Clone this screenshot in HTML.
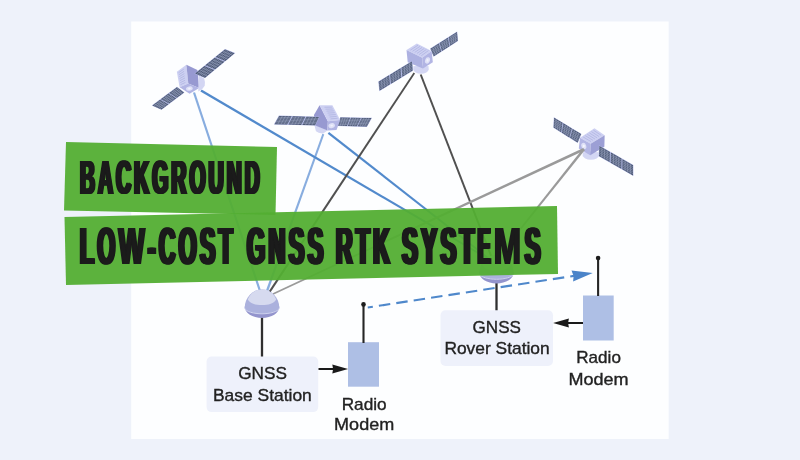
<!DOCTYPE html>
<html lang="en">
<head>
<meta charset="utf-8">
<title>Background: Low-Cost GNSS RTK Systems</title>
<style>
html,body{margin:0;padding:0;background:#eef2fa;}
body{width:800px;height:460px;overflow:hidden;background:#eef2fa;position:relative;font-family:"Liberation Sans",sans-serif;}
svg.dg{position:absolute;left:0;top:0;width:800px;height:460px;will-change:transform;filter:blur(0.45px);}
svg.bn{position:absolute;left:0;top:0;width:800px;height:460px;}
.t{position:absolute;white-space:nowrap;font-weight:bold;color:#1b1b1b;transform-origin:0 0;line-height:1;margin:0;}
.t span{position:absolute;top:0;display:block;transform-origin:0 0;}
.t i{display:inline-block;font-style:normal;transform-origin:0 0;}
#t1{left:0;top:154.3px;font-size:47.2px;letter-spacing:7.0px;text-shadow:2px 0 0 #1b1b1b,-2px 0 0 #1b1b1b,3.5px 0 0 #1b1b1b,-3.5px 0 0 #1b1b1b;}
#t2{left:0;top:221.4px;font-size:51.6px;letter-spacing:7.6px;text-shadow:2px 0 0 #1b1b1b,-2px 0 0 #1b1b1b,3.8px 0 0 #1b1b1b,-3.8px 0 0 #1b1b1b;}
#w0{left:79.99px;transform:scaleX(0.4393);}
#w1{left:80.45px;transform:scaleX(0.4441);}
#w2{left:246.59px;transform:scaleX(0.4514);}
#w3{left:336.2px;transform:scaleX(0.4432);}
#w4{left:402.34px;transform:scaleX(0.4591);}
</style>
</head>
<body>
<svg class="dg" viewBox="0 0 800 460">
<rect x="131.2" y="21.5" width="537.5" height="417.5" fill="#fdfeff"/>
<polygon points="192.96,92.85 258.96,291.35 261.04,290.65 195.04,92.15" fill="#88addf"/>
<polygon points="322.36,133.86 266.12,290.11 268.28,290.89 324.24,134.54" fill="#88addf"/>
<polygon points="200.37,91.58 491.55,261.78 492.45,260.22 201.63,89.42" fill="#528acc"/>
<polygon points="327.69,133.71 493.44,263.31 494.56,261.89 329.11,131.89" fill="#528acc"/>
<polygon points="413.55,72.4 268.58,291.39 270.42,292.61 415.05,73.4" fill="#505050"/>
<polygon points="419.77,74.86 492.57,262.36 494.43,261.64 421.63,74.14" fill="#505050"/>
<polygon points="151.8,105.5 177,86.8 184.5,92.5 161.5,109.8" fill="#b4bbe6"/>
<polygon points="152.44,105.43 160.11,99.73 168.48,104.14 161.44,109.44" fill="#4c5875"/>
<path d="M153.94 106.1L161.51 100.47M155.44 106.76L162.9 101.2M156.94 107.43L164.3 101.94M158.44 108.1L165.69 102.67M159.94 108.77L167.09 103.41M154.36 104L163.2 108.12M156.28 102.58L164.96 106.79M158.19 101.16L166.72 105.47" stroke="#a3acc9" stroke-width="0.5" fill="none"/>
<polygon points="160.87,99.17 168.54,93.48 176.22,98.33 169.18,103.62" fill="#4c5875"/>
<path d="M162.25 99.91L169.82 94.29M163.64 100.66L171.1 95.09M165.02 101.4L172.38 95.9M166.41 102.14L173.66 96.71M167.79 102.88L174.94 97.52M162.78 97.75L170.94 102.3M164.7 96.33L172.7 100.98M166.62 94.9L174.46 99.65" stroke="#a3acc9" stroke-width="0.5" fill="none"/>
<polygon points="169.29,92.92 176.96,87.22 183.96,92.51 176.91,97.81" fill="#4c5875"/>
<path d="M170.56 93.73L178.13 88.1M171.83 94.55L179.29 88.99M173.1 95.36L180.46 89.87M174.37 96.18L181.63 90.75M175.64 96.99L182.79 91.63M171.21 91.49L178.68 96.48M173.13 90.07L180.44 95.16M175.04 88.65L182.2 93.83" stroke="#a3acc9" stroke-width="0.5" fill="none"/>
<polygon points="176.85,71.7 186.4,64.85 188.3,83.6 179.6,87.2" fill="#cdd0f2"/>
<path d="M178.61 72.67L183.8 69.13M178.94 74.67L184.07 71.35M179.27 76.67L184.34 73.57M179.59 78.67L184.61 75.79M179.92 80.66L184.88 78.01M180.25 82.66L185.15 80.24M180.58 84.66L185.42 82.46" stroke="#9fa4d6" stroke-width="0.5" fill="none"/>
<polygon points="186.4,64.85 197.4,69.9 199.2,88.1 188.3,83.6" fill="#9799d1"/>
<polygon points="179.6,87.2 188.3,83.6 199.2,88.1 189.6,93.8" fill="#b2b5e4"/>
<ellipse cx="189.4" cy="88.6" rx="3.4" ry="2.1" fill="#dfe1f7" transform="rotate(-12 189.4 88.6)"/>
<ellipse cx="189.4" cy="88.6" rx="1.4" ry="0.9" fill="#f1f2fc" transform="rotate(-12 189.4 88.6)"/>
<path d="M198.6 75 L204.2 78.6 Q205.4 82 204.7 85.8 Q202.5 90 198.3 91.6 Z" fill="#d3d6f3"/>
<polygon points="194.4,73.75 225,49 235.25,53.1 205,78.1" fill="#b4bbe6"/>
<polygon points="195.14,73.61 204.48,66.05 214.23,70.02 204.99,77.65" fill="#4c5875"/>
<path d="M196.78 74.28L206.1 66.71M198.42 74.95L207.73 67.37M200.07 75.63L209.35 68.03M201.71 76.3L210.98 68.69M203.35 76.97L212.61 69.36M197.47 71.72L207.3 75.74M199.81 69.83L209.61 73.83M202.14 67.94L211.92 71.92" stroke="#a3acc9" stroke-width="0.5" fill="none"/>
<polygon points="205.4,65.3 214.73,57.74 224.38,61.64 215.14,69.27" fill="#4c5875"/>
<path d="M207.02 65.96L216.34 58.39M208.64 66.62L217.95 59.04M210.27 67.29L219.56 59.69M211.89 67.95L221.16 60.34M213.52 68.61L222.77 60.99M207.73 63.41L217.45 67.36M210.06 61.52L219.76 65.45M212.4 59.63L222.07 63.54" stroke="#a3acc9" stroke-width="0.5" fill="none"/>
<polygon points="215.65,57 224.99,49.44 234.53,53.26 225.29,60.89" fill="#4c5875"/>
<path d="M217.26 57.65L226.58 50.08M218.86 58.3L228.17 50.71M220.47 58.94L229.76 51.35M222.08 59.59L231.35 51.98M223.68 60.24L232.94 52.62M217.99 55.11L227.6 58.98M220.32 53.22L229.91 57.07M222.66 51.33L232.22 55.16" stroke="#a3acc9" stroke-width="0.5" fill="none"/>
<polygon points="340.1,117.3 372,117.7 366.9,126.9 337.4,125.9" fill="#b4bbe6"/>
<polygon points="340.39,117.61 350.1,117.73 346.88,125.91 337.85,125.61" fill="#4c5875"/>
<path d="M339.96 118.94L349.57 119.1M339.54 120.27L349.03 120.46M339.12 121.61L348.49 121.82M338.7 122.94L347.96 123.18M338.27 124.28L347.42 124.55M342.82 117.64L340.11 125.69M345.24 117.67L342.37 125.76M347.67 117.7L344.62 125.83" stroke="#a3acc9" stroke-width="0.5" fill="none"/>
<polygon points="351.06,117.75 360.77,117.88 356.8,126.24 347.77,125.94" fill="#4c5875"/>
<path d="M350.51 119.11L360.11 119.27M349.96 120.48L359.45 120.66M349.41 121.84L358.79 122.06M348.87 123.21L358.13 123.45M348.32 124.57L357.46 124.84M353.48 117.78L350.03 126.01M355.91 117.81L352.29 126.09M358.34 117.84L354.54 126.16" stroke="#a3acc9" stroke-width="0.5" fill="none"/>
<polygon points="361.73,117.89 371.44,118.02 366.72,126.57 357.69,126.27" fill="#4c5875"/>
<path d="M361.05 119.28L370.65 119.44M360.38 120.68L369.87 120.87M359.71 122.08L369.08 122.29M359.04 123.47L368.3 123.72M358.36 124.87L367.51 125.14M364.15 117.92L359.95 126.34M366.58 117.95L362.21 126.42M369.01 117.98L364.47 126.49" stroke="#a3acc9" stroke-width="0.5" fill="none"/>
<path d="M313.95 123.57 L315.96 131.33 Q318.7 133.8 323.26 133.43 L327.47 130.51 L315.5 125.03 Z" fill="#d3d6f3"/>
<polygon points="319.61,105.31 313.95,114.89 315.41,125.4 327.37,130.6 327.83,121.29" fill="#9799d1"/>
<polygon points="319.61,105.31 332.4,105.31 340.16,119.92 327.83,121.29" fill="#cdd0f2"/>
<path d="M324.46 107.25L331.84 107.15M325.47 109.2L332.82 109M326.48 111.14L333.79 110.85M327.49 113.09L334.77 112.69M328.5 115.04L335.75 114.54M329.51 116.98L336.73 116.39M330.52 118.93L337.7 118.24" stroke="#9fa4d6" stroke-width="0.5" fill="none"/>
<polygon points="327.83,121.29 340.16,119.92 336.51,129.96 327.37,130.6" fill="#b2b5e4"/>
<ellipse cx="331.67" cy="125.58" rx="3.3" ry="2.4" fill="#dfe1f7" transform="rotate(-15 331.67 125.58)"/>
<ellipse cx="331.67" cy="125.58" rx="1.3" ry="0.9" fill="#f1f2fc"/>
<polygon points="278.9,115.6 319.5,116.7 315.4,125.5 273.85,124.6" fill="#b4bbe6"/>
<polygon points="279.21,115.93 291.62,116.26 287.2,124.57 274.52,124.3" fill="#4c5875"/>
<path d="M278.43 117.32L290.88 117.65M277.65 118.72L290.15 119.03M276.87 120.11L289.41 120.42M276.09 121.51L288.67 121.8M275.31 122.9L287.94 123.19M282.31 116.01L277.69 124.37M285.41 116.09L280.86 124.43M288.52 116.18L284.03 124.5" stroke="#a3acc9" stroke-width="0.5" fill="none"/>
<polygon points="292.84,116.29 305.24,116.63 301.12,124.88 288.45,124.6" fill="#4c5875"/>
<path d="M292.1 117.68L304.56 118M291.37 119.06L303.87 119.38M290.64 120.45L303.18 120.75M289.91 121.83L302.5 122.13M289.18 123.22L301.81 123.5M295.94 116.38L291.62 124.67M299.04 116.46L294.79 124.74M302.14 116.54L297.95 124.81" stroke="#a3acc9" stroke-width="0.5" fill="none"/>
<polygon points="306.46,116.66 318.87,116.99 315.05,125.18 302.37,124.9" fill="#4c5875"/>
<path d="M305.78 118.03L318.23 118.36M305.1 119.41L317.59 119.72M304.42 120.78L316.96 121.09M303.73 122.16L316.32 122.45M303.05 123.53L315.68 123.82M309.56 116.74L305.54 124.97M312.67 116.83L308.71 125.04M315.77 116.91L311.88 125.11" stroke="#a3acc9" stroke-width="0.5" fill="none"/>
<polygon points="430.1,48.6 457.2,31.4 458,41 433.6,56.7" fill="#b4bbe6"/>
<polygon points="430.55,48.68 438.79,43.44 441.25,51.42 433.77,56.23" fill="#4c5875"/>
<path d="M431.08 49.94L439.2 44.77M431.62 51.19L439.61 46.1M432.16 52.45L440.02 47.43M432.7 53.71L440.43 48.76M433.23 54.97L440.84 50.09M432.61 47.37L435.64 55.03M434.67 46.06L437.51 53.82M436.73 44.75L439.38 52.62" stroke="#a3acc9" stroke-width="0.5" fill="none"/>
<polygon points="439.6,42.93 447.85,37.69 449.46,46.14 441.99,50.95" fill="#4c5875"/>
<path d="M440 44.26L448.12 39.1M440.4 45.6L448.39 40.51M440.79 46.94L448.66 41.91M441.19 48.27L448.93 43.32M441.59 49.61L449.19 44.73M441.66 41.62L443.86 49.74M443.73 40.31L445.72 48.54M445.79 39L447.59 47.34" stroke="#a3acc9" stroke-width="0.5" fill="none"/>
<polygon points="448.66,37.18 456.9,31.94 457.68,40.85 450.2,45.66" fill="#4c5875"/>
<path d="M448.92 38.59L457.03 33.43M449.17 40.01L457.16 34.91M449.43 41.42L457.29 36.4M449.69 42.83L457.42 37.88M449.94 44.25L457.55 39.37M450.72 35.87L452.07 44.46M452.78 34.56L453.94 43.26M454.84 33.25L455.81 42.06" stroke="#a3acc9" stroke-width="0.5" fill="none"/>
<ellipse cx="421" cy="69.6" rx="7.6" ry="4.2" fill="#d3d6f3"/>
<polygon points="413.36,66.1 428.58,66.1 428.58,69.6 413.36,69.6" fill="#d3d6f3"/>
<polygon points="406.51,50.11 416.86,43.57 431.62,50.88 422.18,57.72" fill="#cdd0f2"/>
<path d="M410.28 50.21L417.94 45.27M412.5 51.29L420.07 46.32M414.72 52.37L422.19 47.37M416.94 53.46L424.31 48.42M419.16 54.54L426.43 49.46M421.38 55.62L428.56 50.51" stroke="#9fa4d6" stroke-width="0.5" fill="none"/>
<polygon points="406.51,50.11 422.18,57.72 422.95,68.38 407.72,62.29" fill="#adb1e1"/>
<polygon points="422.18,57.72 431.62,50.88 432.84,62.29 422.95,68.38" fill="#b2b5e4"/>
<ellipse cx="427.51" cy="60.46" rx="2.4" ry="3.3" fill="#dfe1f7" transform="rotate(20 427.51 60.46)"/>
<ellipse cx="427.51" cy="60.46" rx="1" ry="1.4" fill="#f1f2fc"/>
<polygon points="378.3,81.6 412.3,60.8 413,70.7 379.3,91.2" fill="#b4bbe6"/>
<polygon points="378.74,81.69 389.12,75.34 389.96,84.36 379.67,90.62" fill="#4c5875"/>
<path d="M378.9 83.18L389.26 76.84M379.05 84.66L389.4 78.34M379.21 86.15L389.54 79.85M379.36 87.64L389.68 81.35M379.52 89.13L389.82 82.85M381.34 80.1L382.24 89.05M383.93 78.51L384.82 87.49M386.53 76.93L387.39 85.92" stroke="#a3acc9" stroke-width="0.5" fill="none"/>
<polygon points="390.14,74.72 400.52,68.37 401.27,77.48 390.97,83.74" fill="#4c5875"/>
<path d="M390.28 76.22L400.64 69.89M390.42 77.72L400.77 71.4M390.56 79.23L400.89 72.92M390.7 80.73L401.02 74.44M390.83 82.24L401.14 75.96M392.74 73.13L393.55 82.17M395.33 71.54L396.12 80.61M397.92 69.95L398.69 79.04" stroke="#a3acc9" stroke-width="0.5" fill="none"/>
<polygon points="401.54,67.74 411.92,61.4 412.57,70.6 402.28,76.86" fill="#4c5875"/>
<path d="M401.66 69.26L412.03 62.93M401.79 70.78L412.13 64.46M401.91 72.3L412.24 66M402.03 73.82L412.35 67.53M402.15 75.34L412.46 69.07M404.13 66.16L404.85 75.3M406.73 64.57L407.42 73.73M409.32 62.98L410 72.17" stroke="#a3acc9" stroke-width="0.5" fill="none"/>
<polygon points="553.8,117.2 581.5,133.9 577.7,143 553.4,127.8" fill="#b4bbe6"/>
<polygon points="554.12,117.77 562.54,122.85 561.16,132.27 553.71,127.61" fill="#4c5875"/>
<path d="M554.05 119.41L562.31 124.42M553.98 121.05L562.08 125.99M553.91 122.69L561.85 127.56M553.84 124.33L561.62 129.13M553.78 125.97L561.39 130.7M556.22 119.04L555.57 128.78M558.33 120.31L557.43 129.94M560.43 121.58L559.3 131.1" stroke="#a3acc9" stroke-width="0.5" fill="none"/>
<polygon points="563.37,123.35 571.79,128.44 569.35,137.38 561.9,132.73" fill="#4c5875"/>
<path d="M563.12 124.92L571.38 129.93M562.88 126.48L570.98 131.42M562.63 128.04L570.57 132.91M562.39 129.6L570.16 134.4M562.14 131.16L569.76 135.89M565.47 124.62L563.76 133.89M567.58 125.89L565.62 135.06M569.68 127.17L567.49 136.22" stroke="#a3acc9" stroke-width="0.5" fill="none"/>
<polygon points="572.61,128.94 581.04,134.02 577.54,142.5 570.08,137.84" fill="#4c5875"/>
<path d="M572.19 130.42L580.45 135.43M571.77 131.9L579.87 136.85M571.35 133.39L579.29 138.26M570.93 134.87L578.71 139.67M570.51 136.36L578.12 141.09M574.72 130.21L571.95 139.01M576.83 131.48L573.81 140.17M578.93 132.75L575.68 141.33" stroke="#a3acc9" stroke-width="0.5" fill="none"/>
<ellipse cx="590.9" cy="155.6" rx="8" ry="4.2" fill="#d3d6f3"/>
<polygon points="582.75,152.18 598.58,152.18 598.58,156.45 582.75,156.45" fill="#d3d6f3"/>
<polygon points="580.01,137.72 594.47,128.14 604.67,135.14 590.66,143.81" fill="#cdd0f2"/>
<path d="M593.43 130.19L601.13 135.35M591.37 131.55L599.12 136.6M589.31 132.91L597.1 137.86M587.25 134.26L595.09 139.12M585.19 135.62L593.08 140.38M583.13 136.98L591.07 141.64" stroke="#9fa4d6" stroke-width="0.5" fill="none"/>
<polygon points="580.01,137.72 590.66,143.81 590.21,155.23 578.79,148.38" fill="#b2b5e4"/>
<polygon points="590.66,143.81 604.67,135.14 604.36,146.86 590.21,155.23" fill="#9c9fd5"/>
<ellipse cx="583.81" cy="146.10" rx="2.4" ry="3.3" fill="#dfe1f7" transform="rotate(-20 583.81 146.10)"/>
<ellipse cx="583.81" cy="146.10" rx="1" ry="1.4" fill="#f4f5fd"/>
<polygon points="599,145.3 633.4,165.1 633.4,176 598.6,156.2" fill="#b4bbe6"/>
<polygon points="599.4,145.92 609.91,151.96 609.65,162.1 599.03,156.06" fill="#4c5875"/>
<path d="M599.34 147.61L609.86 153.65M599.28 149.3L609.82 155.34M599.22 150.99L609.78 157.03M599.15 152.68L609.74 158.72M599.09 154.37L609.7 160.41M602.03 147.43L601.69 157.57M604.65 148.94L604.34 159.08M607.28 150.45L607 160.59" stroke="#a3acc9" stroke-width="0.5" fill="none"/>
<polygon points="610.94,152.56 621.45,158.6 621.32,168.74 610.7,162.7" fill="#4c5875"/>
<path d="M610.9 154.25L621.43 160.29M610.86 155.94L621.4 161.98M610.82 157.63L621.38 163.67M610.78 159.32L621.36 165.36M610.74 161.01L621.34 167.05M613.57 154.07L613.35 164.21M616.19 155.58L616.01 165.72M618.82 157.09L618.66 167.23" stroke="#a3acc9" stroke-width="0.5" fill="none"/>
<polygon points="622.48,159.2 632.99,165.24 632.98,175.38 622.36,169.34" fill="#4c5875"/>
<path d="M622.46 160.89L632.99 166.93M622.44 162.58L632.99 168.62M622.42 164.27L632.98 170.31M622.4 165.96L632.98 172M622.38 167.65L632.98 173.69M625.11 160.71L625.02 170.85M627.73 162.22L627.67 172.36M630.36 163.73L630.33 173.87" stroke="#a3acc9" stroke-width="0.5" fill="none"/>
<polygon points="583.35,148.02 272.66,293.17 273.34,294.63 584.45,150.38" fill="#9a9a9a"/>
<polygon points="582.88,148.39 494.41,260.53 495.59,261.47 584.92,150.01" fill="#9a9a9a"/>
<path d="M496.5 283 V311" stroke="#303030" stroke-width="2.3"/>
<path d="M479.1 272.1 C479.1 278.6 487 283.5 496.5 283.5 C506 283.5 513.9 278.6 513.9 272.1 Z" fill="#9394cd"/>
<path d="M479.2 273.4 C479.2 262.6 487.3 254.9 496.5 254.9 C505.7 254.9 513.8 262.6 513.8 273.4 C512.7 276.9 504.5 279 496.5 279 C488.5 279 480.3 276.9 479.2 273.4 Z" fill="#abb1dd"/>
<path d="M479.2 273.7 C480.3 277.2 488.5 279.3 496.5 279.3 C504.5 279.3 512.7 277.2 513.8 273.7" fill="none" stroke="#d4d8f0" stroke-width="0.9"/>
<path d="M482.3 264.9 C485.3 257.9 490.3 254.9 496.5 254.9 C502.7 254.9 507.7 257.9 510.7 264.9 C507 272.5 486 272.5 482.3 264.9 Z" fill="#d6daef"/>
<path d="M262 317 V357" stroke="#303030" stroke-width="2.3"/>
<path d="M244.6 306.6 C244.6 313.1 252.5 318 262 318 C271.5 318 279.4 313.1 279.4 306.6 Z" fill="#9394cd"/>
<path d="M244.7 307.9 C244.7 297.1 252.8 289.4 262 289.4 C271.2 289.4 279.3 297.1 279.3 307.9 C278.2 311.4 270 313.5 262 313.5 C254 313.5 245.8 311.4 244.7 307.9 Z" fill="#abb1dd"/>
<path d="M244.7 308.2 C245.8 311.7 254 313.8 262 313.8 C270 313.8 278.2 311.7 279.3 308.2" fill="none" stroke="#d4d8f0" stroke-width="0.9"/>
<path d="M247.8 299.4 C250.8 292.4 255.8 289.4 262 289.4 C268.2 289.4 273.2 292.4 276.2 299.4 C272.5 307 251.5 307 247.8 299.4 Z" fill="#d6daef"/>
<rect x="206.6" y="356.5" width="111.6" height="55.6" rx="5" fill="#eef1fb"/>
<rect x="440.5" y="310.2" width="112.5" height="55.8" rx="5" fill="#eef1fb"/>
<rect x="348" y="342.2" width="31" height="44.5" fill="#aebfe5"/>
<rect x="583" y="295.5" width="30.7" height="45" fill="#aebfe5"/>
<path d="M363.5 304.5 V343" stroke="#262626" stroke-width="2.1"/><circle cx="363.5" cy="304.4" r="2.3" fill="#1c1c1c"/>
<path d="M598.1 258.2 V296" stroke="#262626" stroke-width="2.1"/><circle cx="598.1" cy="258.1" r="2.3" fill="#1c1c1c"/>
<path d="M318.5 369 H336" stroke="#1a1a1a" stroke-width="2"/><polygon points="348.1,369 332.3,364.5 333.1,369 332.3,373.5" fill="#1a1a1a"/>
<path d="M583 323 H566" stroke="#1a1a1a" stroke-width="2"/><polygon points="553.1,323 568.9,318.5 568.1,323 568.9,327.5" fill="#1a1a1a"/>
<path d="M574 275.9 L367.75 307.5" stroke="#4f88cb" stroke-width="2.1" stroke-dasharray="11.5 6.1" stroke-dashoffset="7.7" fill="none"/>
<polygon points="592.75,272.9 571.5,270.4 573.6,276 573.1,281.6" fill="#4b84c9"/>
<g font-family="'Liberation Sans', sans-serif" font-size="16.4" fill="#222" stroke="#222" stroke-width="0.35"><text x="238.2" y="378.8" textLength="48.7" lengthAdjust="spacingAndGlyphs">GNSS</text>
<text x="213" y="401.1" textLength="98.8" lengthAdjust="spacingAndGlyphs">Base Station</text>
<text x="341.7" y="409.7" textLength="44.9" lengthAdjust="spacingAndGlyphs">Radio</text>
<text x="334.1" y="430.4" textLength="60.1" lengthAdjust="spacingAndGlyphs">Modem</text>
<text x="472.6" y="333.1" textLength="48.3" lengthAdjust="spacingAndGlyphs">GNSS</text>
<text x="444.4" y="354.3" textLength="105.3" lengthAdjust="spacingAndGlyphs">Rover Station</text>
<text x="576.3" y="363.4" textLength="44.6" lengthAdjust="spacingAndGlyphs">Radio</text>
<text x="568.4" y="384.5" textLength="60.1" lengthAdjust="spacingAndGlyphs">Modem</text></g>
</svg>
<svg class="bn" viewBox="0 0 800 460">
<polygon points="66,142 277,147 275.5,215 64,210.5" fill="#53ae33" fill-opacity="0.95"/>
<polygon points="64.5,217 557,206 558,274 66,285" fill="#53ae33" fill-opacity="0.95"/>
</svg>
<h2 class="t" id="t1"><span id="w0">BACKGROUND</span></h2>
<h1 class="t" id="t2"><span id="w1">LO<i style="transform:scaleX(1.2);margin-right:9.7px;text-shadow:1.3px 0 0 #1b1b1b,-1.3px 0 0 #1b1b1b,2.6px 0 0 #1b1b1b,-2.6px 0 0 #1b1b1b">W</i>-COST</span> <span id="w2">GNSS</span> <span id="w3">RTK</span> <span id="w4">SYST<i style="transform:scaleX(.8);margin-right:-6.9px;text-shadow:2.3px 0 0 #1b1b1b,-2.3px 0 0 #1b1b1b,4.6px 0 0 #1b1b1b,-4.6px 0 0 #1b1b1b">E</i><i style="transform:scaleX(1.38);margin-right:16.3px;text-shadow:1.6px 0 0 #1b1b1b,-1.6px 0 0 #1b1b1b">M</i>S</span></h1>
</body>
</html>
